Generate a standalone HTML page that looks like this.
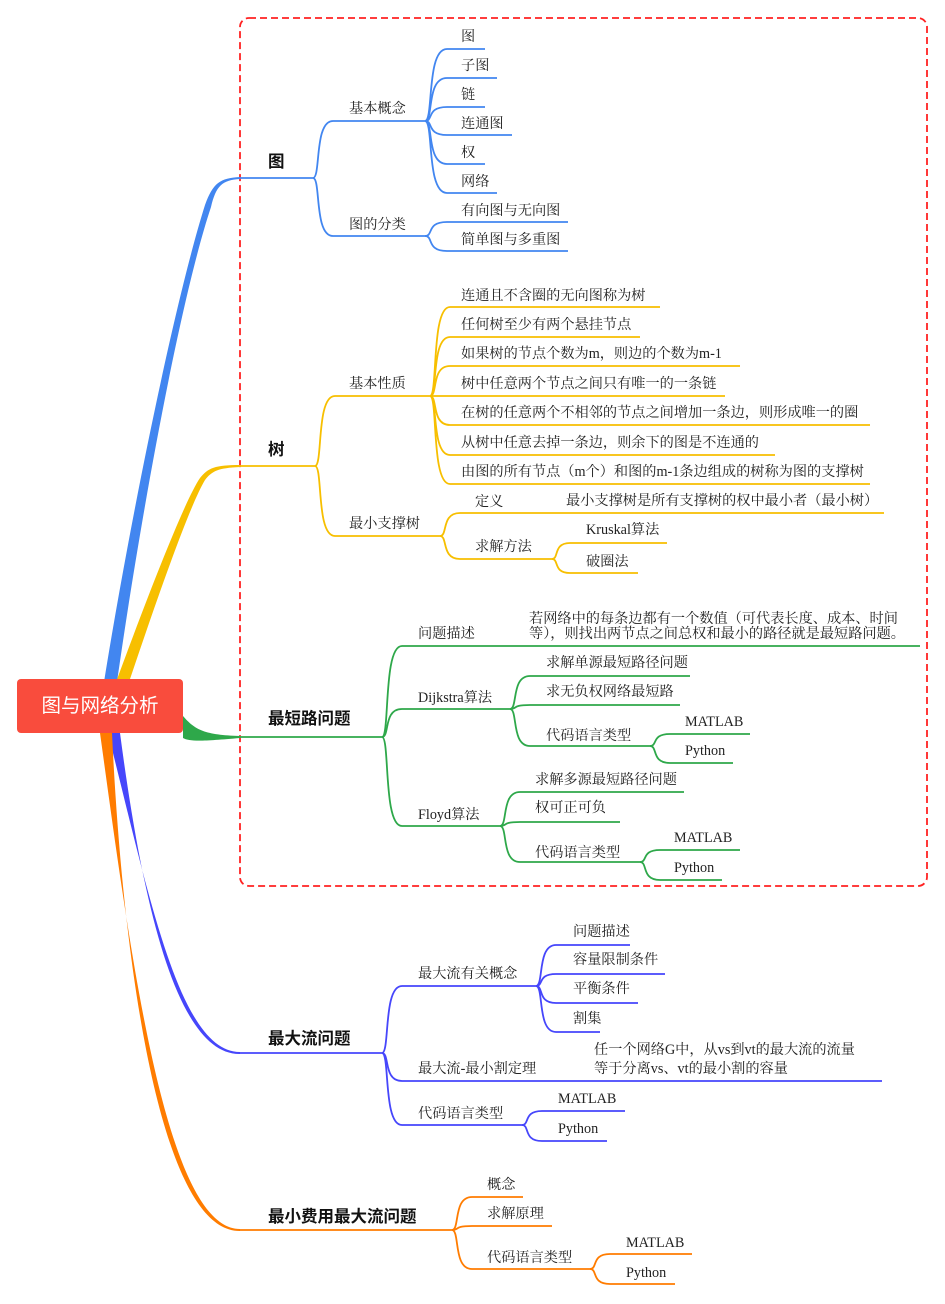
<!DOCTYPE html>
<html><head><meta charset="utf-8">
<style>
html,body{margin:0;padding:0;background:#fff;}
svg{display:block;}
text{font-family:"Liberation Serif","Noto Serif CJK SC",serif;font-size:14.2px;fill:#222;dominant-baseline:central;}
.b{font-family:"Liberation Sans","Noto Sans CJK SC",sans-serif;font-weight:bold;font-size:16.5px;fill:#111;}
</style></head>
<body>
<svg id="s" width="945" height="1304" viewBox="0 0 945 1304" xmlns="http://www.w3.org/2000/svg">
<rect x="240" y="18" width="687" height="868" rx="9" fill="none" stroke="#f22" stroke-width="1.8" stroke-dasharray="7,4"/>
<path d="M104 682 C130 520,175 300,205 205 C213 183,220 178,240 177 L240 179 C222 180,216 186,211 207 C180 300,140 520,117 682 Z" fill="#4286f0"/>
<path d="M116 682 C150 590,185 500,200 478 C208 468,215 465,240 465 L240 467 C218 468,212 471,205 480 C190 505,160 590,129 682 Z" fill="#f7bf00"/>
<path d="M183 716 C195 730,205 735,240 736 L240 738 C205 741,190 742,183 738 Z" fill="#2ea84a"/>
<path d="M108 733 C150 900,180 1052,240 1052 L240 1054 C176 1055,142 900,120 733 Z" fill="#4646fb"/>
<path d="M100 733 C130 950,165 1229,240 1229 L240 1231 C158 1232,122 950,112 733 Z" fill="#ff7c00"/>
<g id="c" fill="none" stroke-width="1.8"></g>
<rect x="17" y="679" width="166" height="54" rx="4" fill="#f94c3d"/>
<text x="100" y="706" text-anchor="middle" style="font-family:'Liberation Sans','Noto Sans CJK SC',sans-serif;font-size:19.5px;fill:#fff">图与网络分析</text>

<text class="b" x="268" y="162">图</text>
<text class="b" x="268" y="450">树</text>
<text class="b" x="268" y="719">最短路问题</text>
<text class="b" x="268" y="1039">最大流问题</text>
<text class="b" x="268" y="1217">最小费用最大流问题</text>

<text x="349" y="109">基本概念</text>
<text x="349" y="225">图的分类</text>
<text x="461" y="37">图</text>
<text x="461" y="66">子图</text>
<text x="461" y="95">链</text>
<text x="461" y="124">连通图</text>
<text x="461" y="153">权</text>
<text x="461" y="182">网络</text>
<text x="461" y="211">有向图与无向图</text>
<text x="461" y="240">简单图与多重图</text>

<text x="349" y="384">基本性质</text>
<text x="349" y="524">最小支撑树</text>
<text x="461" y="296">连通且不含圈的无向图称为树</text>
<text x="461" y="325">任何树至少有两个悬挂节点</text>
<text x="461" y="354">如果树的节点个数为m，则边的个数为m-1</text>
<text x="461" y="384">树中任意两个节点之间只有唯一的一条链</text>
<text x="461" y="413">在树的任意两个不相邻的节点之间增加一条边，则形成唯一的圈</text>
<text x="461" y="443">从树中任意去掉一条边，则余下的图是不连通的</text>
<text x="461" y="472">由图的所有节点（m个）和图的m-1条边组成的树称为图的支撑树</text>
<text x="475" y="502">定义</text>
<text x="566" y="501">最小支撑树是所有支撑树的权中最小者（最小树）</text>
<text x="475" y="547">求解方法</text>
<text x="586" y="530">Kruskal算法</text>
<text x="586" y="562">破圈法</text>

<text x="418" y="634">问题描述</text>
<text x="529" y="619">若网络中的每条边都有一个数值（可代表长度、成本、时间</text>
<text x="529" y="634">等），则找出两节点之间总权和最小的路径就是最短路问题。</text>
<text x="418" y="698">Dijkstra算法</text>
<text x="546" y="663">求解单源最短路径问题</text>
<text x="546" y="692">求无负权网络最短路</text>
<text x="546" y="736">代码语言类型</text>
<text x="685" y="722">MATLAB</text>
<text x="685" y="751">Python</text>
<text x="418" y="815">Floyd算法</text>
<text x="535" y="780">求解多源最短路径问题</text>
<text x="535" y="808">权可正可负</text>
<text x="535" y="853">代码语言类型</text>
<text x="674" y="838">MATLAB</text>
<text x="674" y="868">Python</text>

<text x="418" y="974">最大流有关概念</text>
<text x="573" y="932">问题描述</text>
<text x="573" y="960">容量限制条件</text>
<text x="573" y="989">平衡条件</text>
<text x="573" y="1019">割集</text>
<text x="418" y="1069">最大流-最小割定理</text>
<text x="594" y="1050">任一个网络G中，从vs到vt的最大流的流量</text>
<text x="594" y="1069">等于分离vs、vt的最小割的容量</text>
<text x="418" y="1114">代码语言类型</text>
<text x="558" y="1099">MATLAB</text>
<text x="558" y="1129">Python</text>

<text x="487" y="1185">概念</text>
<text x="487" y="1214">求解原理</text>
<text x="487" y="1258">代码语言类型</text>
<text x="626" y="1243">MATLAB</text>
<text x="626" y="1273">Python</text>
</svg>
<script>
var B='#4286f0',Y='#f7bf00',G='#2ea84a',I='#4646fb',O='#ff7c00';
var L=[
[240,178,240,178,313,B],
[313,178,333,121,425,B],[313,178,333,236,425,B],
[425,121,447,49,485,B],[425,121,447,78,497,B],[425,121,447,107,485,B],[425,121,447,135,512,B],[425,121,447,164,485,B],[425,121,447,193,497,B],
[425,236,447,222,568,B],[425,236,447,251,568,B],
[240,466,240,466,315,Y],
[315,466,335,396,430,Y],[315,466,335,536,440,Y],
[430,396,450,307,660,Y],[430,396,450,337,640,Y],[430,396,450,366,740,Y],[430,396,450,396,725,Y],[430,396,450,425,870,Y],[430,396,450,455,775,Y],[430,396,450,484,870,Y],
[440,536,460,513,884,Y],[440,536,460,559,552,Y],
[552,559,570,543,667,Y],[552,559,570,573,638,Y],
[240,737,240,737,382,G],
[382,737,402,646,920,G],[382,737,402,709,510,G],[382,737,402,826,500,G],
[510,709,530,676,690,G],[510,709,530,705,680,G],[510,709,530,746,650,G],
[650,746,670,734,750,G],[650,746,670,763,733,G],
[500,826,520,792,684,G],[500,826,520,822,620,G],[500,826,520,862,640,G],
[640,862,660,850,740,G],[640,862,660,880,722,G],
[240,1053,240,1053,382,I],
[382,1053,402,986,536,I],[382,1053,402,1081,882,I],[382,1053,402,1125,522,I],
[536,986,556,945,630,I],[536,986,556,974,665,I],[536,986,556,1003,638,I],[536,986,556,1032,600,I],
[522,1125,542,1111,625,I],[522,1125,542,1141,607,I],
[240,1230,240,1230,452,O],
[452,1230,472,1197,523,O],[452,1230,472,1226,552,O],[452,1230,472,1269,590,O],
[590,1269,610,1254,692,O],[590,1269,610,1284,675,O]
];
var g=document.getElementById('c'),h='';
L.forEach(function(a){var px=a[0],py=a[1],cx=a[2],cy=a[3],ex=a[4],w=cx-px,d;
if(w<=0){d='M'+px+' '+py+' L'+ex+' '+cy;}else{d='M'+px+' '+py+' C'+(px+0.4*w)+' '+py+','+(px+0.05*w)+' '+cy+','+cx+' '+cy+' L'+ex+' '+cy;}
h+='<path d="'+d+'" stroke="'+a[5]+'"/>';});
g.innerHTML=h;
</script>
</body></html>
